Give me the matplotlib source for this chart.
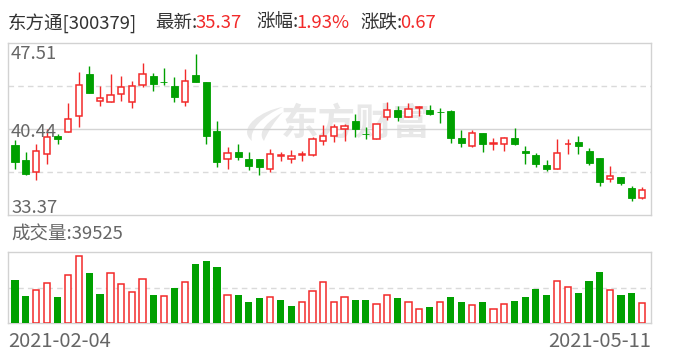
import matplotlib
matplotlib.use('Agg')
import matplotlib.pyplot as plt
import matplotlib.transforms as mtransforms
from matplotlib.path import Path
from matplotlib.patches import PathPatch
import numpy as np

plt.rcParams['font.family'] = ['Noto Sans CJK SC', 'DejaVu Sans']

# ---------------- data ----------------
stock_name = "东方通[300379]"
latest = "35.37"
pct_change = "1.93%"
change = "0.67"
last_volume = "39525"
date_start = "2021-02-04"
date_end = "2021-05-11"
price_top = 47.51
price_mid = 40.44
price_bottom = 33.37

opens = [39.08, 37.87, 36.89, 38.33, 39.87, 40.20, 41.50, 44.94, 42.72, 42.64,
         43.29, 42.64, 44.02, 44.78, 44.28, 43.96, 42.64, 44.86, 44.29, 40.22,
         37.92, 38.52, 37.95, 37.95, 37.11, 38.22, 37.92, 38.25, 38.30, 39.46,
         39.79, 40.41, 41.04, 40.03, 39.55, 41.39, 41.93, 41.42, 42.15, 41.98,
         41.82, 41.85, 39.65, 39.03, 40.11, 39.17, 39.14, 39.63, 38.57, 38.25,
         37.46, 37.11, 39.14, 39.30, 38.60, 38.03, 36.29, 36.48, 35.51, 34.75]
highs = [39.49, 38.49, 39.14, 40.39, 39.98, 42.58, 45.10, 45.59, 43.96, 44.97,
         44.78, 44.34, 45.83, 45.02, 45.43, 44.69, 45.32, 46.56, 44.29, 41.04,
         38.92, 39.17, 38.52, 37.95, 38.76, 38.54, 38.68, 38.62, 39.71, 40.71,
         40.79, 40.79, 41.61, 40.55, 40.85, 42.66, 42.34, 42.58, 42.31, 42.42,
         42.17, 41.93, 40.30, 40.30, 40.11, 39.65, 39.74, 40.47, 39.00, 38.41,
         37.87, 39.57, 39.57, 39.87, 38.81, 38.03, 37.38, 36.48, 35.75, 35.64]
lows = [37.08, 36.59, 36.19, 37.54, 39.19, 40.20, 40.58, 43.34, 42.31, 42.64,
        42.74, 42.12, 43.83, 43.50, 43.99, 42.61, 42.31, 44.30, 39.19, 37.32,
        37.08, 37.89, 37.00, 36.59, 36.84, 37.81, 37.57, 37.81, 38.22, 39.09,
        39.36, 39.44, 39.76, 39.57, 39.55, 41.14, 41.06, 41.42, 41.47, 41.52,
        40.90, 39.25, 38.95, 38.95, 38.54, 38.71, 38.62, 39.11, 37.54, 37.32,
        36.92, 37.11, 38.35, 38.35, 37.46, 35.75, 36.02, 35.83, 34.48, 34.64]
closes = [37.73, 36.73, 38.57, 39.71, 39.60, 41.25, 44.02, 43.34, 42.96, 43.20,
          43.85, 43.94, 44.91, 44.15, 44.24, 43.01, 44.36, 44.30, 39.84, 37.73,
          38.41, 38.14, 37.40, 37.32, 38.33, 38.27, 38.19, 38.35, 39.57, 39.87,
          40.60, 40.68, 40.41, 39.98, 40.85, 41.93, 41.39, 42.07, 42.20, 41.63,
          41.77, 39.65, 39.27, 40.11, 39.20, 39.22, 39.63, 39.19, 38.46, 37.49,
          37.08, 38.41, 39.19, 39.03, 37.57, 36.02, 36.56, 35.94, 34.70, 35.37]
volumes = [84240, 53140, 64150, 77760, 51190, 93310, 130900, 97850, 57020, 97200,
           75820, 60260, 85540, 55080, 52490, 68690, 79700, 115340, 121180, 109510,
           54430, 54430, 41470, 49250, 50540, 45360, 33700, 40820, 62210, 79700,
           40820, 50540, 45360, 45360, 36940, 54430, 49250, 40820, 27220, 31750,
           40820, 51190, 41470, 34990, 41470, 27220, 36940, 43420, 51190, 66740,
           55080, 81650, 69980, 58970, 82300, 99790, 64150, 55080, 58970, 39525]
volume_top = 139200

# ---------------- style ----------------
RED = '#f22a2a'
GREEN = '#00a000'
GRID = '#dadada'
SPINE = '#d2d2d2'
LABEL = '#666666'

W, H = 688, 360
fig = plt.figure(figsize=(W / 100, H / 100), dpi=100)
pix = mtransforms.Affine2D().scale(1 / W, -1 / H).translate(0, 1) + fig.transFigure


def box(l, t, r, b):
    return [l / W, 1 - b / H, (r - l) / W, (b - t) / H]


o = np.array(opens); h = np.array(highs); l = np.array(lows); c = np.array(closes)
v = np.array(volumes)
n = len(o)
x = np.arange(n)
xlim = (-0.63, n - 1 + 0.83)

# ---------------- price panel ----------------
ax = fig.add_axes(box(8.3, 42.7, 651, 214.5))
ax.set_xlim(*xlim)
ax.set_ylim(price_bottom, price_top)
ax.set_xticks([]); ax.set_yticks([])
for s in ax.spines.values():
    s.set_color(SPINE); s.set_linewidth(1.0)

q = (price_top - price_bottom) / 4
ax.axhline(price_mid, color='#d4d4d4', lw=1.0, zorder=1)
ax.axhline(price_mid + q, color=GRID, lw=1.0, ls=(0, (4, 3)), zorder=1)
ax.axhline(price_mid - q, color=GRID, lw=1.0, ls=(0, (4, 3)), zorder=1)

# watermark
ax.text(356, 124, "东方财富", transform=pix, fontsize=27, fontweight='bold',
        color='#e8e8e8', ha='center', va='center', zorder=0.5)
verts = [(283, 107), (262, 110), (236, 128), (252, 141), (249, 130), (262, 116), (283, 107),
         (283, 112), (270, 120), (256, 131), (264, 141), (268, 131), (275, 121), (283, 112)]
codes = [Path.MOVETO, Path.CURVE4, Path.CURVE4, Path.CURVE4, Path.CURVE4, Path.CURVE4, Path.CURVE4,
         Path.MOVETO, Path.CURVE4, Path.CURVE4, Path.CURVE4, Path.CURVE4, Path.CURVE4, Path.CURVE4]
ax.add_patch(PathPatch(Path(verts, codes), transform=pix, facecolor='#e8e8e8',
                       edgecolor='none', zorder=0.5))

up = c >= o
colors = np.where(up, RED, GREEN)
ax.vlines(x, l, h, colors=colors, lw=1.0, zorder=2)
bottom = np.minimum(o, c)
height = np.abs(c - o)
ax.bar(x[up], height[up], bottom=bottom[up], width=0.6, facecolor='white',
       edgecolor=RED, lw=1.1, zorder=3)
ax.bar(x[~up], height[~up], bottom=bottom[~up], width=0.66, facecolor=GREEN,
       edgecolor=GREEN, lw=0.6, zorder=3)

# axis labels inside panel
ax.text(11, 59.3, f"{price_top:.2f}", transform=pix, fontsize=13.3, color=LABEL, va='baseline', zorder=5)
ax.text(11, 137.3, f"{price_mid:.2f}", transform=pix, fontsize=13.3, color=LABEL, va='baseline', zorder=5)
ax.text(11, 213.3, f"{price_bottom:.2f}", transform=pix, fontsize=13.3, color=LABEL, va='baseline', zorder=5)

# ---------------- volume panel ----------------
axv = fig.add_axes(box(8.3, 251.7, 651, 323.3))
axv.set_xlim(*xlim)
axv.set_ylim(0, volume_top)
axv.set_xticks([]); axv.set_yticks([])
for s in axv.spines.values():
    s.set_color(SPINE); s.set_linewidth(1.0)
axv.axhline(volume_top / 2, color=GRID, lw=1.0, ls=(0, (4, 3)), zorder=1)
prev = np.concatenate([[o[0]], c[:-1]])
vup = c > prev
axv.bar(x[vup], v[vup], width=0.6, facecolor='white', edgecolor=RED, lw=1.1, zorder=3)
axv.bar(x[~vup], v[~vup], width=0.68, facecolor=GREEN, edgecolor='none', zorder=3)

# ---------------- header & footer text ----------------
def ftxt(px, py, s, color, size=13, **kw):
    fig.text(px, py, s, transform=pix, fontsize=size, color=color, va='baseline', **kw)

ftxt(8, 28.3, stock_name, '#333333', 13.3)
ftxt(155, 28.3, "最新:", '#333333', 13.3)
ftxt(196, 28.3, latest, RED, 13.3)
ftxt(256, 28.3, "涨幅:", '#333333', 13.3)
ftxt(296, 28.3, pct_change, RED, 13.3)
ftxt(360, 28.3, "涨跌:", '#333333', 13.3)
ftxt(400, 28.3, change, RED, 13.3)

ftxt(11, 239.3, f"成交量:{last_volume}", LABEL, 13.3)
ftxt(8.5, 347.3, date_start, LABEL, 14.5)
ftxt(651, 347.3, date_end, LABEL, 14.5, ha='right')

fig.savefig('out.png', dpi=100)
